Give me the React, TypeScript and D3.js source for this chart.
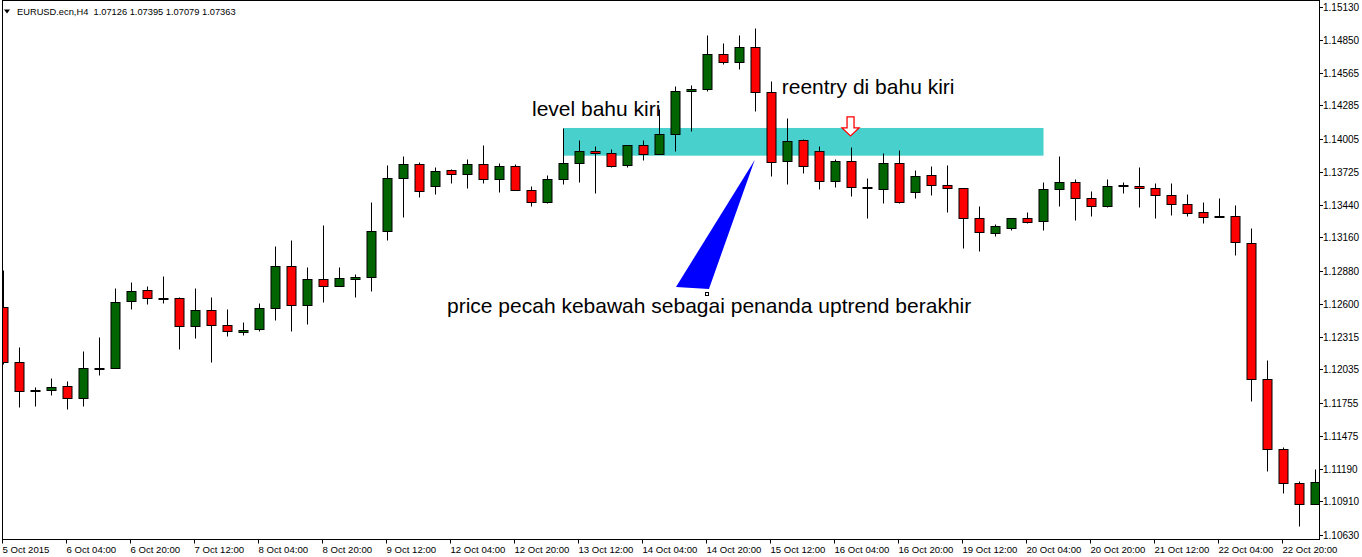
import React from 'react';
import * as d3 from 'd3';

const W = 1362;
const H = 557;

// EURUSD H4 candles (bar index 0..82)
const opens = [
  1.12571, 1.12102, 1.11861, 1.11863, 1.11897, 1.11795, 1.12050, 1.12051, 1.12622, 1.12715,
  1.12647, 1.12647, 1.12409, 1.12545, 1.12417, 1.12358, 1.12383, 1.12562, 1.12920, 1.12588,
  1.12809, 1.12750, 1.12809, 1.12826, 1.13218, 1.13670, 1.13789, 1.13602, 1.13738, 1.13704,
  1.13789, 1.13662, 1.13772, 1.13568, 1.13465, 1.13662, 1.13798, 1.13900, 1.13883, 1.13781,
  1.13951, 1.13875, 1.14045, 1.14412, 1.14429, 1.14721, 1.14659, 1.14787, 1.14403, 1.13815,
  1.13994, 1.13900, 1.13644, 1.13815, 1.13590, 1.13576, 1.13798, 1.13551, 1.13696, 1.13610,
  1.13585, 1.13329, 1.13201, 1.13244, 1.13329, 1.13304, 1.13576, 1.13636, 1.13500, 1.13431,
  1.13608, 1.13602, 1.13585, 1.13525, 1.13448, 1.13380, 1.13343, 1.13343, 1.13116, 1.11957,
  1.11360, 1.11070, 1.10891,
];
const highs = [
  1.12883, 1.12232, 1.11891, 1.11968, 1.11934, 1.12190, 1.12309, 1.12735, 1.12786, 1.12752,
  1.12829, 1.12658, 1.12727, 1.12650, 1.12548, 1.12445, 1.12607, 1.13085, 1.13136, 1.12906,
  1.13264, 1.12914, 1.12852, 1.13460, 1.13775, 1.13860, 1.13806, 1.13764, 1.13747, 1.13832,
  1.13951, 1.13798, 1.13789, 1.13602, 1.13696, 1.14096, 1.13996, 1.13943, 1.13917, 1.13951,
  1.13994, 1.14258, 1.14451, 1.14463, 1.14883, 1.14823, 1.14891, 1.14943, 1.14497, 1.14181,
  1.14002, 1.13943, 1.13832, 1.13934, 1.13670, 1.13883, 1.13903, 1.13738, 1.13772, 1.13781,
  1.13585, 1.13431, 1.13278, 1.13329, 1.13380, 1.13636, 1.13858, 1.13662, 1.13559, 1.13662,
  1.13636, 1.13764, 1.13627, 1.13627, 1.13534, 1.13465, 1.13500, 1.13440, 1.13244, 1.12121,
  1.11377, 1.11088, 1.11184,
];
const lows = [
  1.12085, 1.11715, 1.11723, 1.11817, 1.11698, 1.11723, 1.11988, 1.12051, 1.12550, 1.12593,
  1.12601, 1.12209, 1.12303, 1.12098, 1.12320, 1.12332, 1.12363, 1.12456, 1.12363, 1.12422,
  1.12610, 1.12750, 1.12652, 1.12704, 1.13142, 1.13334, 1.13508, 1.13534, 1.13627, 1.13585,
  1.13627, 1.13551, 1.13568, 1.13431, 1.13457, 1.13619, 1.13636, 1.13542, 1.13764, 1.13764,
  1.13823, 1.13875, 1.13900, 1.14067, 1.14412, 1.14638, 1.14596, 1.14241, 1.13687, 1.13619,
  1.13709, 1.13576, 1.13593, 1.13517, 1.13326, 1.13457, 1.13457, 1.13496, 1.13522, 1.13377,
  1.13073, 1.13048, 1.13176, 1.13227, 1.13287, 1.13227, 1.13431, 1.13312, 1.13346, 1.13421,
  1.13542, 1.13423, 1.13326, 1.13351, 1.13343, 1.13287, 1.13338, 1.13014, 1.11766, 1.11169,
  1.10985, 1.10704, 1.10891,
];
const closes = [
  1.12102, 1.11851, 1.11857, 1.11889, 1.11795, 1.12051, 1.12053, 1.12613, 1.12707, 1.12647,
  1.12645, 1.12409, 1.12545, 1.12417, 1.12366, 1.12377, 1.12562, 1.12920, 1.12588, 1.12809,
  1.12750, 1.12818, 1.12826, 1.13218, 1.13670, 1.13789, 1.13559, 1.13730, 1.13704, 1.13789,
  1.13662, 1.13772, 1.13568, 1.13465, 1.13662, 1.13798, 1.13900, 1.13883, 1.13772, 1.13951,
  1.13875, 1.14045, 1.14412, 1.14431, 1.14721, 1.14659, 1.14787, 1.14403, 1.13806, 1.13985,
  1.13772, 1.13644, 1.13815, 1.13593, 1.13589, 1.13798, 1.13465, 1.13687, 1.13610, 1.13585,
  1.13329, 1.13210, 1.13261, 1.13329, 1.13295, 1.13576, 1.13636, 1.13500, 1.13431, 1.13602,
  1.13612, 1.13585, 1.13525, 1.13448, 1.13372, 1.13338, 1.13341, 1.13125, 1.11957, 1.11360,
  1.11070, 1.10891, 1.11079,
];

const timeLabels = [
  '5 Oct 2015', '6 Oct 04:00', '6 Oct 20:00', '7 Oct 12:00', '8 Oct 04:00', '8 Oct 20:00',
  '9 Oct 12:00', '12 Oct 04:00', '12 Oct 20:00', '13 Oct 12:00', '14 Oct 04:00', '14 Oct 20:00',
  '15 Oct 12:00', '16 Oct 04:00', '16 Oct 20:00', '19 Oct 12:00', '20 Oct 04:00', '20 Oct 20:00',
  '21 Oct 12:00', '22 Oct 04:00', '22 Oct 20:00',
];
const priceLabels = [
  '1.15130', '1.14850', '1.14565', '1.14285', '1.14005', '1.13725', '1.13440', '1.13160', '1.12880',
  '1.12600', '1.12315', '1.12035', '1.11755', '1.11475', '1.11190', '1.10910', '1.10630',
];

const headerText = 'EURUSD.ecn,H4  1.07126 1.07395 1.07079 1.07363';

// annotations in (bar index, price)
const zoneBars = [35, 65];
const zonePrices = [1.14099, 1.13863];
const textNotes = [
  { text: 'level bahu kiri', bar: 33.03, price: 1.14201 },
  { text: 'reentry di bahu kiri', bar: 48.64, price: 1.14389 },
  { text: 'price pecah kebawah sebagai penanda uptrend berakhir', bar: 27.72, price: 1.12522 },
];
const triangleBars = [46.95, 42.03, 44.09];
const trianglePrices = [1.13826, 1.12744, 1.12727];
const triangleMarker = { bar: 43.91, price: 1.12684 };
const arrowPoint = { bar: 52.94, price: 1.14031 };

const PLOT_L = 2.5;
const PLOT_R = 1319.5;
const PLOT_T = 0.5;
const PLOT_B = 539.5;

const FONT = '"Liberation Sans", Arial, sans-serif';

export default function App() {
  const x = d3.scaleLinear().domain([0, 82]).range([3.5, 1315.5]);
  const y = d3.scaleLinear().domain([1.1063, 1.1513]).range([535, 7]);
  const snap = (v: number) => Math.round(v - 0.5) + 0.5;

  const step = (1.1513 - 1.1063) / (priceLabels.length - 1);
  const priceTicks = priceLabels.map((lab, k) => ({ lab, v: 1.1513 - k * step }));

  const candles = opens.map((o, i) => ({ i, o, h: highs[i], l: lows[i], c: closes[i] }));

  const tri = triangleBars.map((b, k) => [x(b), y(trianglePrices[k])] as [number, number]);
  const ax = x(arrowPoint.bar);
  const ay = y(arrowPoint.price);
  const arrowPath = `M${ax - 3.5},${ay - 19} L${ax + 3.5},${ay - 19} L${ax + 3.5},${ay - 8} L${ax + 8.5},${ay - 8} L${ax},${ay} L${ax - 8.5},${ay - 8} L${ax - 3.5},${ay - 8} Z`;

  return (
    <div style={{ position: 'absolute', left: 0, top: 0, width: W, height: H, background: '#fff' }}>
      <svg width={W} height={H} style={{ display: 'block' }} fontFamily={FONT}>
        <defs>
          <clipPath id="plotClip">
            <rect x={PLOT_L} y={PLOT_T} width={PLOT_R - PLOT_L} height={PLOT_B - PLOT_T} />
          </clipPath>
        </defs>
        <rect x={0} y={0} width={W} height={H} fill="#fff" />

        <g clipPath="url(#plotClip)">
          {/* zone rectangle (background) */}
          <rect
            x={x(zoneBars[0])}
            y={y(zonePrices[0])}
            width={x(zoneBars[1]) - x(zoneBars[0])}
            height={y(zonePrices[1]) - y(zonePrices[0])}
            fill="#48D1CC"
          />
          {candles.map((d) => {
            const cx = x(d.i);
            const top = snap(y(Math.max(d.o, d.c)));
            const bot = snap(y(Math.min(d.o, d.c)));
            const bull = d.c > d.o;
            const bh = Math.max(bot - top, 1);
            return (
              <g key={d.i}>
                <line x1={cx} x2={cx} y1={snap(y(d.h))} y2={snap(y(d.l))} stroke="#000" strokeWidth={1} />
                <rect
                  x={cx - 4.5}
                  y={top}
                  width={9}
                  height={bh}
                  fill={bull ? '#006400' : '#FF0000'}
                  stroke="#000"
                  strokeWidth={1}
                />
              </g>
            );
          })}
          {/* blue triangle */}
          <polygon points={tri.map((p) => p.join(',')).join(' ')} fill="#0000FF" />
          <rect
            x={snap(x(triangleMarker.bar)) - 1}
            y={snap(y(triangleMarker.price)) - 1}
            width={3}
            height={3}
            fill="#fff"
            stroke="#000"
            strokeWidth={1}
          />
          {/* reentry arrow */}
          <path d={arrowPath} fill="#fff" stroke="#FF0000" strokeWidth={1.3} strokeLinejoin="miter" />
          {textNotes.map((t) => (
            <text key={t.text} x={x(t.bar)} y={y(t.price)} fontSize={21} fill="#000">
              {t.text}
            </text>
          ))}
        </g>

        {/* frame */}
        <rect x={PLOT_L} y={PLOT_T} width={PLOT_R - PLOT_L} height={PLOT_B - PLOT_T} fill="none" stroke="#000" strokeWidth={1} />

        {/* header */}
        <path d="M4,9.5 L10,9.5 L7,13.5 Z" fill="#000" />
        <text x={17} y={14.5} fontSize={9.3} fill="#000" style={{ whiteSpace: 'pre' }}>
          {headerText}
        </text>

        {/* price axis */}
        {priceTicks.map((t) => {
          const ty = snap(y(t.v));
          return (
            <g key={t.lab}>
              <line x1={PLOT_R} x2={PLOT_R + 3.5} y1={ty} y2={ty} stroke="#000" strokeWidth={1} />
              <text x={1323} y={ty + 3.5} fontSize={10} fill="#000">
                {t.lab}
              </text>
            </g>
          );
        })}

        {/* time axis */}
        {timeLabels.map((lab, k) => {
          const tx = x(k * 4) - 1;
          return (
            <g key={lab}>
              <line x1={tx} x2={tx} y1={PLOT_B} y2={PLOT_B + 4} stroke="#000" strokeWidth={1} />
              <text x={tx} y={552.5} fontSize={9.6} fill="#000">
                {lab}
              </text>
            </g>
          );
        })}
      </svg>
    </div>
  );
}
